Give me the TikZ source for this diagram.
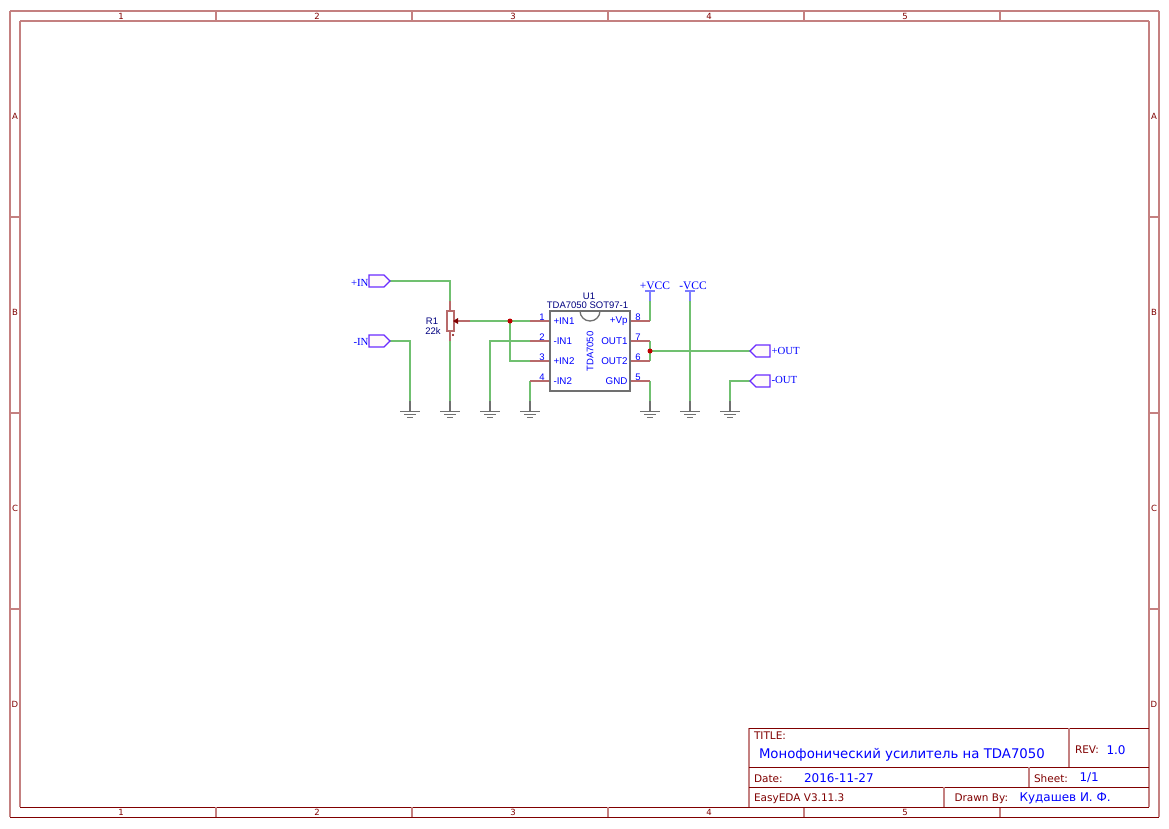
\documentclass[tikz,border=0pt]{standalone}
\usepackage{fontspec}
\setmainfont{Liberation Sans}
\newfontfamily\dejavu{DejaVu Sans}
\newfontfamily\libserif{Liberation Serif}
\definecolor{framered}{HTML}{800000}
\definecolor{framepale}{HTML}{C48080}
\definecolor{wiregreen}{HTML}{70C070}
\definecolor{pinred}{HTML}{B86A6A}
\definecolor{netblue}{HTML}{0000FF}
\definecolor{partblue}{HTML}{000080}
\definecolor{flagviolet}{HTML}{6A2CFF}
\definecolor{flagfill}{HTML}{FFFAFA}
\definecolor{powerblue}{HTML}{7C7CFF}
\definecolor{groundgrey}{HTML}{707070}
\begin{document}
\begin{tikzpicture}[x=1pt,y=-1pt,line width=2pt,
  every node/.style={inner sep=0pt,font=\fontsize{9.5}{10}\selectfont},
  frame line/.style={draw=framepale},
  frame dark/.style={draw=framered,line width=1pt},
  frame label/.style={text=framered,font=\dejavu\fontsize{8.5}{9}\selectfont},
  wire/.style={draw=wiregreen},
  pin/.style={draw=pinred},
  pin name/.style={text=netblue,font=\fontsize{9.8}{10}\selectfont},
  pin number/.style={text=netblue},
  part text/.style={text=partblue},
  net text/.style={text=netblue,font=\libserif\fontsize{10.8}{12}\selectfont},
  net flag/.style={draw=flagviolet,fill=flagfill,line width=1.3pt},
  ground line/.style={draw=groundgrey,line width=1pt},
  power line/.style={draw=powerblue},
  dot/.style={circle,fill=red!75!black,minimum size=5pt},
  block label/.style={anchor=west,text=framered,font=\dejavu\fontsize{10.5}{11}\selectfont},
  block value/.style={anchor=west,text=netblue,font=\dejavu\fontsize{12}{13}\selectfont}]
  \useasboundingbox (0,0) rectangle (1169,828);
  \fill[white] (0,0) rectangle (1169,828);

  % sheet frame
  \draw[frame line] (10,11) -- (1159,11);
  \draw[frame line] (20,21) -- (1149,21);
  \draw[frame line] (10,11) -- (10,817);
  \draw[frame line] (20,21) -- (20,807);
  \draw[frame line] (1149,21) -- (1149,807);
  \draw[frame line] (1159,11) -- (1159,817);
  \draw[frame dark] (10,817) -- (1159,817);
  \draw[frame dark] (20,807) -- (1149,807);
  \foreach \x in {216,412,608,804,1000} {
    \draw[frame line] (\x,11) -- (\x,21);
    \draw[frame line] (\x,807) -- (\x,817);
  }
  \foreach \y in {217,413,609} {
    \draw[frame line] (10,\y) -- (20,\y);
    \draw[frame line] (1149,\y) -- (1159,\y);
  }
  \foreach \x/\t in {121/1,317/2,513/3,709/4,905/5} {
    \node[frame label] (top\t) at (\x,16) {\t};
    \node[frame label] (bot\t) at (\x,812) {\t};
  }
  \foreach \y/\t in {116/A,312/B,508/C,704/D} {
    \node[frame label] (left\t) at (15,\y) {\t};
    \node[frame label] (right\t) at (1154,\y) {\t};
  }

  % title block
  \fill[white] (749,728) rectangle (1149,807);
  \draw[frame line] (749,728) -- (749,807);
  \draw[frame line] (1149,728) -- (1149,807);
  \draw[frame dark] (749,728) -- (1149,728);
  \draw[frame dark] (749,767) -- (1149,767);
  \draw[frame dark] (749,787) -- (1149,787);
  \draw[frame dark] (749,807) -- (1149,807);
  \draw[frame line] (1069,728) -- (1069,767);
  \draw[frame line] (1029,767) -- (1029,787);
  \draw[frame line] (944,787) -- (944,807);
  \node[block label] (title) at (753,735.5) {TITLE:};
  \node[block value,font=\dejavu\fontsize{13.3}{14}\selectfont] (titletext) at (758,754.5) {Монофонический усилитель на TDA7050};
  \node[block label] (rev) at (1074,750) {REV:};
  \node[block value] (revtext) at (1105.5,750) {1.0};
  \node[block label] (date) at (753,778.5) {Date:};
  \node[block value] (datetext) at (803,778) {2016-11-27};
  \node[block label] (sheet) at (1033,778.5) {Sheet:};
  \node[block value] (sheettext) at (1078.5,778) {1/1};
  \node[block label] (version) at (753,798.5) {EasyEDA V3.11.3};
  \node[block label] (drawn) at (953.5,798.5) {Drawn By:};
  \node[block value] (drawntext) at (1018.5,798) {Кудашев И. Ф.};

  % points of the circuit
  \coordinate (p1) at (530,321);
  \coordinate (p2) at (530,341);
  \coordinate (p3) at (530,361);
  \coordinate (p4) at (530,381);
  \coordinate (p5) at (650,381);
  \coordinate (p6) at (650,361);
  \coordinate (p7) at (650,341);
  \coordinate (p8) at (650,321);
  \coordinate (rtop) at (450,301);
  \coordinate (rbot) at (450,341);
  \coordinate (rwiper) at (470,321);
  \coordinate (vccp) at (650,301);
  \coordinate (vccm) at (690,301);
  \coordinate (fpin) at (390,281);
  \coordinate (fmin) at (390,341);
  \coordinate (fpout) at (750,351);
  \coordinate (fmout) at (750,381);
  \foreach \n/\x in {g1/410,g2/450,g3/490,g4/530,g5/650,g6/690,g7/730} {
    \coordinate (\n) at (\x,401);
    \draw[ground line,line width=2pt] (\n) -- ++(0,10);
    \draw[ground line] (\x-10,411) -- (\x+10,411);
    \draw[ground line] (\x-6,414) -- (\x+6,414);
    \draw[ground line] (\x-3,417) -- (\x+3,417);
  }

  % wires
  \draw[wire] (fpin) -| (rtop);
  \draw[wire] (fmin) -| (g1);
  \draw[wire] (rbot) -- (g2);
  \draw[wire] (rwiper) -- (p1);
  \draw[wire] (p2) -| (g3);
  \draw[wire] (p4) -| (g4);
  \draw[wire] (p3) -| (510,321);
  \draw[wire] (p8) -- (vccp);
  \draw[wire] (p7) -- (p6);
  \draw[wire] (p5) -- (g5);
  \draw[wire] (vccm) -- (g6);
  \draw[wire] (650,351) -- (fpout);
  \draw[wire] (fmout) -| (g7);

  % TDA7050
  \node[draw=groundgrey,line width=1.7pt,minimum width=80pt,minimum height=80pt] (u1) at (590,351) {};
  \draw[draw=groundgrey,line width=1.3pt] (580,311) arc[start angle=180,end angle=360,radius=10pt];
  \foreach \n/\y in {1/321,2/341,3/361,4/381}
    \draw[pin] (u1.west |- 0,\y) -- (p\n);
  \foreach \n/\y in {8/321,7/341,6/361,5/381}
    \draw[pin] (u1.east |- 0,\y) -- (p\n);
  \foreach \n/\y/\t in {1/321/+IN1,2/341/-IN1,3/361/+IN2,4/381/-IN2} {
    \node[pin name,anchor=west] (name\n) at (552.5,\y) {\t};
    \node[pin number] (num\n) at (542,\y-4) {\n};
  }
  \foreach \n/\y/\t in {8/321/+Vp,7/341/OUT1,6/361/OUT2,5/381/GND} {
    \node[pin name,anchor=east] (name\n) at (628.5,\y) {\t};
    \node[pin number] (num\n) at (638,\y-4) {\n};
  }
  \node[dot] (j1) at (510,321) {};
  \node[dot] (j2) at (650,351) {};
  \node[pin name,font=\fontsize{9.5}{10}\selectfont,rotate=90] (u1value) at (590,351.5) {TDA7050};
  \node[part text] (u1ref) at (589,296) {U1};
  \node[part text] (u1pack) at (587.5,305) {TDA7050 SOT97-1};

  % R1
  \node[draw=pinred,fill=white,line width=2pt,minimum width=7pt,minimum height=20pt] (r1) at (450,321) {};
  \draw[pin] (rtop) -- (r1.north);
  \draw[pin] (r1.south) -- (rbot);
  \draw[pin] (rwiper) -- (r1.east);
  \fill[framered] (453,321) -- (458,318) -- (458,324) -- cycle;
  \fill[framered] (453,335) circle (1.2);
  \node[part text] (r1ref) at (432,321) {R1};
  \node[part text] (r1val) at (433,331) {22k};

  % power
  \draw[power line] (vccp) -- (650,291);
  \draw[power line] (645,291) -- (655,291);
  \draw[power line] (vccm) -- (690,291);
  \draw[power line] (685,291) -- (695,291);
  \node[net text,font=\libserif\fontsize{11.5}{12}\selectfont] (vccptext) at (655,285.5) {+VCC};
  \node[net text,font=\libserif\fontsize{11.5}{12}\selectfont] (vccmtext) at (693,285.5) {-VCC};

  % net flags
  \draw[net flag] (fpin) -- (384,275) -- (369,275) -- (369,287) -- (384,287) -- cycle;
  \draw[net flag] (fmin) -- (384,335) -- (369,335) -- (369,347) -- (384,347) -- cycle;
  \draw[net flag] (fpout) -- (756,345) -- (770,345) -- (770,357) -- (756,357) -- cycle;
  \draw[net flag] (fmout) -- (756,375) -- (770,375) -- (770,387) -- (756,387) -- cycle;
  \node[net text,anchor=east] (fpintext) at (369.5,283) {+IN};
  \node[net text,anchor=east] (fmintext) at (369.5,342) {-IN};
  \node[net text,anchor=west] (fpouttext) at (770.5,351) {+OUT};
  \node[net text,anchor=west] (fmouttext) at (770.5,380) {-OUT};
\end{tikzpicture}
\end{document}
